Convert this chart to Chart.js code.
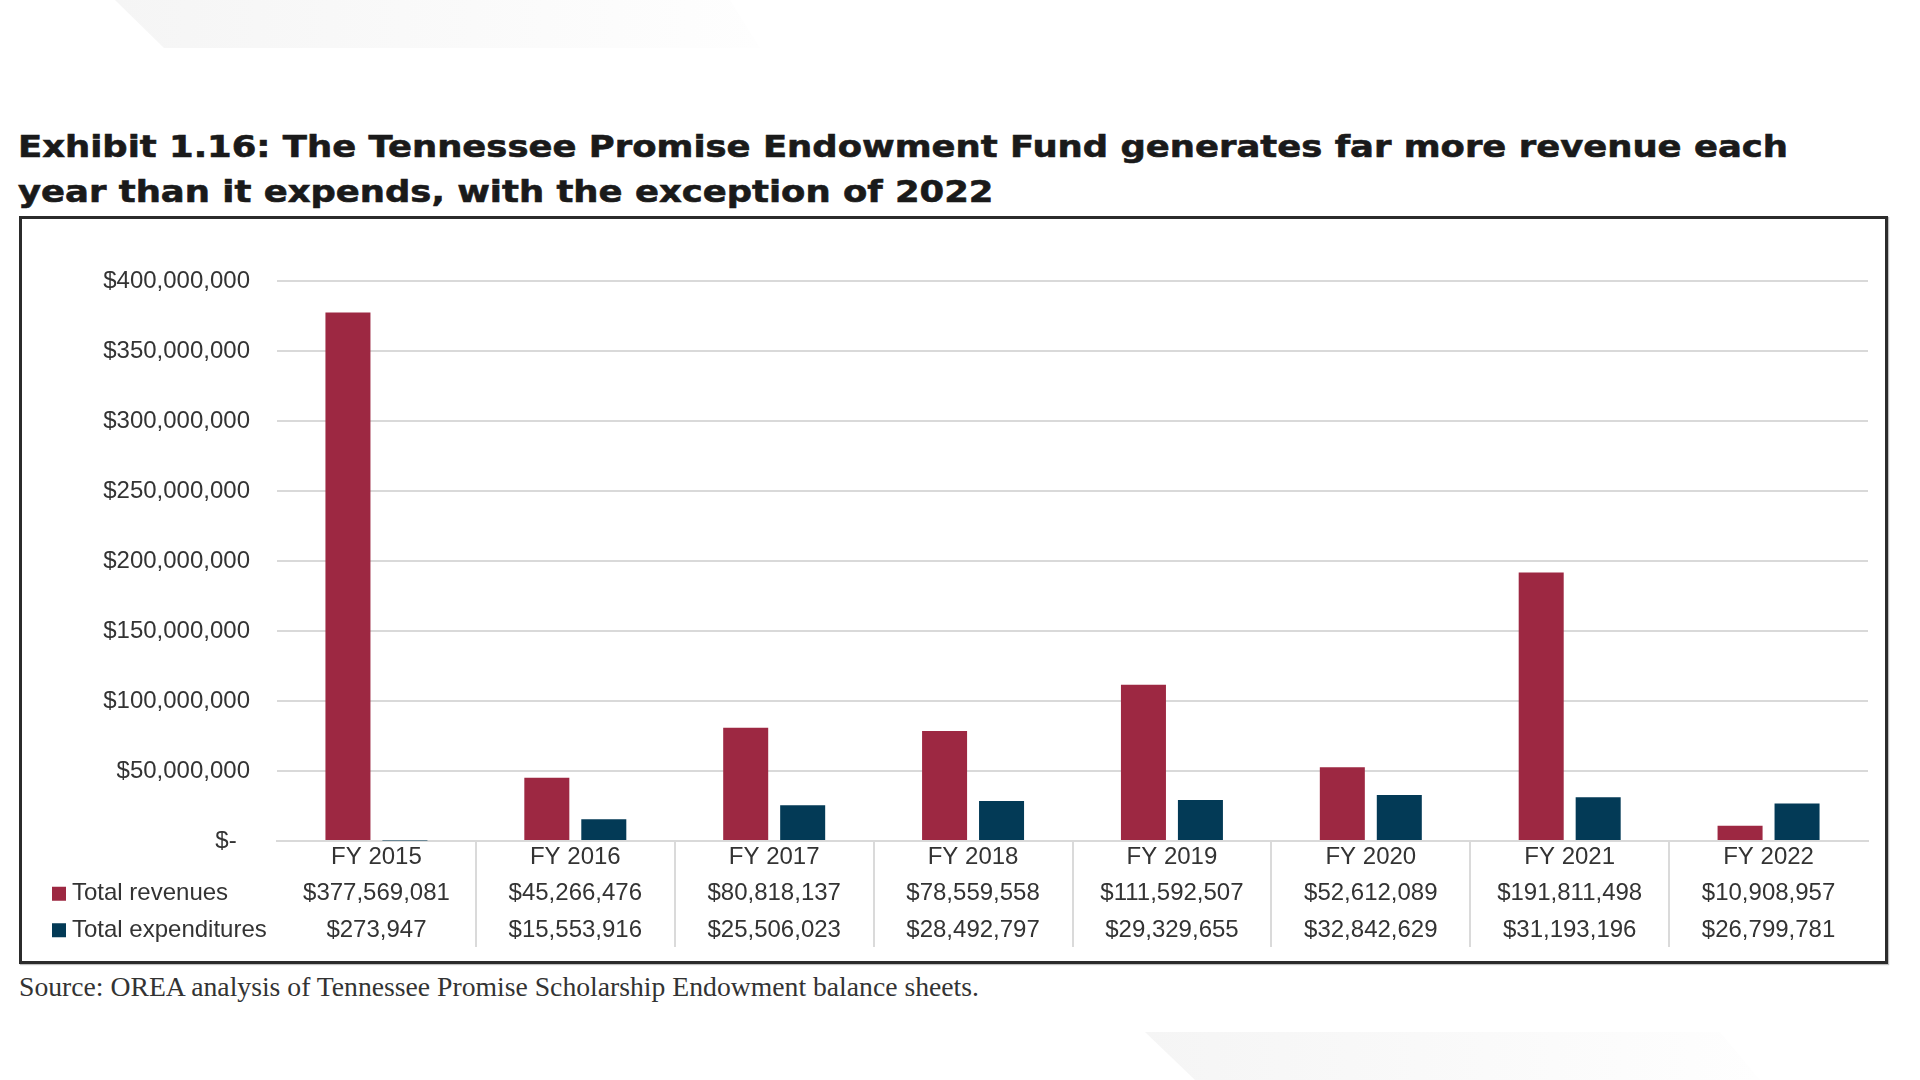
<!DOCTYPE html>
<html>
<head>
<meta charset="utf-8">
<script src="https://cdn.jsdelivr.net/npm/chart.js@4.4.1/dist/chart.umd.min.js"></script>
<style>
  html, body { margin: 0; padding: 0; background: #fff; }
  #page { position: relative; width: 1920px; height: 1080px; overflow: hidden; background: #fff; }
  #deco { position: absolute; left: 0; top: 0; }
  .title { position: absolute; left: 18px; font-family: "DejaVu Sans", sans-serif; font-weight: bold;
           font-size: 30px; line-height: 30px; color: #1a1a1a; white-space: nowrap; transform-origin: 0 0;
           -webkit-text-stroke: 0.6px #1a1a1a; }
  #frame { position: absolute; left: 19px; top: 216px; width: 1869px; height: 748px; box-sizing: border-box;
           border: 3px solid #2b2b2b; box-shadow: 1px 1px 1px rgba(0,0,0,0.25); }
  #source { position: absolute; left: 19px; top: 974px; font-family: "Liberation Serif", serif; font-size: 27px;
            line-height: 27px; color: #333; white-space: nowrap; transform-origin: 0 0; }
  #chartBox { position: absolute; left: 0; top: 0; width: 1920px; height: 1080px; }
</style>
</head>
<body>
<div id="page">
  <svg id="deco" width="1920" height="1080">
    <defs>
      <linearGradient id="g1" x1="115" y1="0" x2="760" y2="0" gradientUnits="userSpaceOnUse">
        <stop offset="0" stop-color="#f5f5f5"/><stop offset="1" stop-color="#fefefe"/>
      </linearGradient>
      <linearGradient id="g2" x1="1145" y1="0" x2="1760" y2="0" gradientUnits="userSpaceOnUse">
        <stop offset="0" stop-color="#f5f5f5"/><stop offset="1" stop-color="#fefefe"/>
      </linearGradient>
    </defs>
    <polygon points="115,0 730,0 760,48 164,48" fill="url(#g1)"/>
    <polygon points="1145,1032 1720,1032 1760,1080 1195,1080" fill="url(#g2)"/>
  </svg>
  <div class="title" id="t1" style="top:132px">Exhibit 1.16: The Tennessee Promise Endowment Fund generates far more revenue each</div>
  <div class="title" id="t2" style="top:177px">year than it expends, with the exception of 2022</div>
  <div id="frame"></div>
  <div id="source">Source: OREA analysis of Tennessee Promise Scholarship Endowment balance sheets.</div>
  <div id="chartBox"><canvas id="c" width="1920" height="1080"></canvas></div>
</div>
<script>
const categories = ['FY 2015', 'FY 2016', 'FY 2017', 'FY 2018', 'FY 2019', 'FY 2020', 'FY 2021', 'FY 2022'];
const revenues = [377569081, 45266476, 80818137, 78559558, 111592507, 52612089, 191811498, 10908957];
const expenditures = [273947, 15553916, 25506023, 28492797, 29329655, 32842629, 31193196, 26799781];
const seriesNames = ['Total revenues', 'Total expenditures'];
const seriesColors = ['#9d2842', '#033a56'];
const yMax = 400000000;
const yStep = 50000000;

function money(v) {
  if (v === 0) return '$-  ';
  return '$' + Math.round(v).toLocaleString('en-US');
}

// horizontal fit of the title and source to the reference widths
const t1w = document.getElementById('t1').getBoundingClientRect().width;
['t1', 't2'].forEach(id => { document.getElementById(id).style.transform = 'scaleX(' + (1770 / t1w) + ')'; });
const sw = document.getElementById('source').getBoundingClientRect().width;
document.getElementById('source').style.transform = 'scaleX(' + (960 / sw) + ')';

const FONT = '"Liberation Sans", Arial, sans-serif';
const TEXT = '#333333';
const X_TICK_LEN = 106;
const X_PAD = -108;
const LINE_H = 36.5;

const legendPlugin = {
  id: 'tableLegend',
  afterDraw(chart) {
    const xs = chart.scales.x;
    const ctx = chart.ctx;
    const first = xs.top + X_TICK_LEN + X_PAD + LINE_H / 2;
    ctx.save();
    ctx.font = '24px ' + FONT;
    ctx.textBaseline = 'middle';
    ctx.textAlign = 'left';
    seriesNames.forEach((name, i) => {
      const y = first + LINE_H * (i + 1);
      ctx.fillStyle = seriesColors[i];
      ctx.fillRect(52, y - 7, 14, 14);
      ctx.fillStyle = TEXT;
      ctx.fillText(name, 72, y);
    });
    ctx.restore();
  }
};

new Chart(document.getElementById('c'), {
  type: 'bar',
  data: {
    labels: categories,
    datasets: [
      { label: seriesNames[0], data: revenues, backgroundColor: seriesColors[0], borderWidth: 0,
        categoryPercentage: 0.573, barPercentage: 0.79 },
      { label: seriesNames[1], data: expenditures, backgroundColor: seriesColors[1], borderWidth: 0,
        categoryPercentage: 0.573, barPercentage: 0.79 }
    ]
  },
  options: {
    responsive: false,
    devicePixelRatio: 1,
    animation: false,
    layout: { padding: { left: 20, right: 52, top: 281, bottom: 119 } },
    plugins: { legend: { display: false }, tooltip: { enabled: false }, title: { display: false } },
    scales: {
      y: {
        min: 0, max: yMax,
        ticks: { stepSize: yStep, callback: v => money(v), font: { family: FONT, size: 24 }, color: TEXT, padding: 27 },
        grid: { color: '#d9d9d9', lineWidth: 2, drawTicks: false },
        border: { display: false },
        afterFit: s => { s.width = 257; }
      },
      x: {
        offset: true,
        grid: {
          offset: true, drawOnChartArea: false, drawTicks: true, tickLength: X_TICK_LEN, lineWidth: 2,
          color: ctx => (ctx.type !== 'tick' || ctx.index === 0) ? 'rgba(0,0,0,0)' : '#dadada'
        },
        border: { display: true, color: '#d9d9d9', width: 2 },
        ticks: {
          autoSkip: false, maxRotation: 0, minRotation: 0, padding: X_PAD,
          font: { family: FONT, size: 24, lineHeight: LINE_H / 24 }, color: TEXT,
          callback: (v, i) => [categories[i], money(revenues[i]), money(expenditures[i])]
        },
        afterFit: s => { s.height = 120; }
      }
    }
  },
  plugins: [legendPlugin]
});
</script>
</body>
</html>
